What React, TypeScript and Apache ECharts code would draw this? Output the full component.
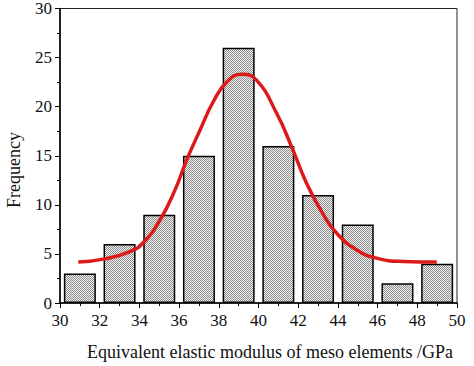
import React, { useEffect, useRef } from "react";
import * as echarts from "echarts";

const binCenters = [31, 33, 35, 37, 39, 41, 43, 45, 47, 49];
const frequencies = [3, 6, 9, 15, 26, 16, 11, 8, 2, 4];

const fitX = [30.92, 32.18, 33.53, 34.2, 35.04, 35.79, 36.38, 37.05, 37.72, 38.4, 39.15, 39.9, 40.92, 41.67, 42.42, 43.18, 43.94, 44.95, 45.95, 47.3, 48.98];
const fitY = [4.17, 4.47, 5.24, 6.16, 8.46, 11.5, 14.56, 17.6, 20.5, 22.5, 23.3, 22.7, 19.3, 15.9, 12.2, 9.3, 7.1, 5.4, 4.57, 4.23, 4.17];

const xTicks = { min: 30, max: 50, interval: 2 };
const yTicks = { min: 0, max: 30, interval: 5 };

const xName = "Equivalent elastic modulus of meso elements /GPa";
const yName = "Frequency";

export default function App() {
  const ref = useRef<HTMLDivElement>(null);
  useEffect(() => {
    if (!ref.current) return;
    document.body.style.margin = "0";
    const chart = echarts.init(ref.current, undefined, { renderer: "svg" });
    const cv = document.createElement("canvas");
    cv.width = 2;
    cv.height = 2;
    const ctx = cv.getContext("2d")!;
    ctx.fillStyle = "#f2f2f2";
    ctx.fillRect(0, 0, 2, 2);
    ctx.fillStyle = "#8c8c8c";
    ctx.fillRect(0, 0, 1, 1);
    ctx.fillRect(1, 1, 1, 1);

    const font = "'Liberation Serif', 'Times New Roman', serif";
    chart.setOption({
      animation: false,
      backgroundColor: "#fff",
      textStyle: { fontFamily: font },
      grid: {
        left: 60,
        right: 17,
        top: 8,
        bottom: 63,
        show: true,
        borderColor: "#222",
        borderWidth: 1,
        backgroundColor: "transparent",
      },
      xAxis: {
        type: "value",
        min: xTicks.min,
        max: xTicks.max,
        interval: xTicks.interval,
        axisLine: { show: true, onZero: false, lineStyle: { color: "#000", width: 1.5 } },
        axisTick: { show: true, length: 5, lineStyle: { color: "#000", width: 1 } },
        minorTick: { show: true, splitNumber: 2, length: 3, lineStyle: { color: "#000", width: 1 } },
        splitLine: { show: false },
        axisLabel: { color: "#111", fontSize: 17, fontFamily: font, margin: 9 },
      },
      yAxis: {
        type: "value",
        min: yTicks.min,
        max: yTicks.max,
        interval: yTicks.interval,
        axisLine: { show: true, lineStyle: { color: "#000", width: 1.5 } },
        axisTick: { show: true, length: 5, lineStyle: { color: "#000", width: 1 } },
        minorTick: { show: true, splitNumber: 2, length: 3, lineStyle: { color: "#000", width: 1 } },
        splitLine: { show: false },
        axisLabel: { color: "#111", fontSize: 17, fontFamily: font, margin: 8 },
      },
      graphic: [
        {
          type: "text",
          x: 270,
          y: 352,
          style: {
            text: xName,
            fontSize: 18,
            fontFamily: font,
            fill: "#111",
            align: "center",
            verticalAlign: "middle",
          },
        },
        {
          type: "text",
          x: 14,
          y: 170,
          rotation: Math.PI / 2,
          style: {
            text: yName,
            fontSize: 18,
            fontFamily: font,
            fill: "#111",
            align: "center",
            verticalAlign: "middle",
          },
        },
      ],
      series: [
        {
          type: "bar",
          data: binCenters.map((c, i) => [c, frequencies[i]]),
          barWidth: 32,
          itemStyle: {
            color: { image: cv, repeat: "repeat" },
            borderColor: "#000",
            borderWidth: 1.5,
          },
        },
        {
          type: "line",
          data: fitX.map((x, i) => [x, fitY[i]]),
          smooth: true,
          symbol: "none",
          lineStyle: { color: "#dc1a1a", width: 3.5 },
          z: 5,
        },
      ],
    });
    return () => chart.dispose();
  }, []);
  return <div ref={ref} style={{ width: 474, height: 366 }} />;
}
